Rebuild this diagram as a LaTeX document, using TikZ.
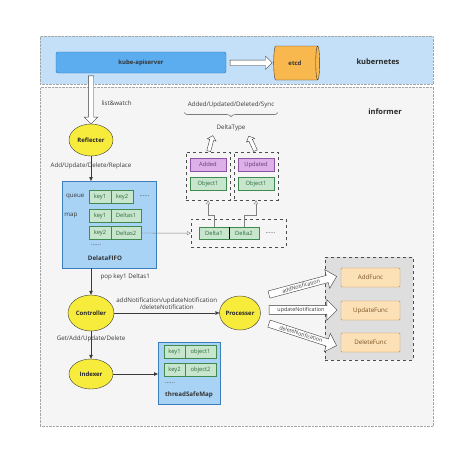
\documentclass[tikz,border=0pt]{standalone}
\usepackage{fontspec}
\setmainfont{Open Sans}
\usetikzlibrary{positioning,shapes.geometric,shapes.arrows,arrows.meta,decorations.pathreplacing,calc}

\definecolor{k8sblue}{HTML}{C4E0F9}
\definecolor{infogray}{HTML}{F5F5F5}
\definecolor{apiblue}{HTML}{5BADF0}
\definecolor{apiedge}{HTML}{2F6FAF}
\definecolor{etcdorange}{HTML}{F8B84E}
\definecolor{boxblue}{HTML}{A9D3F5}
\definecolor{boxedge}{HTML}{3C7DBB}
\definecolor{cellgreen}{HTML}{C7E6CD}
\definecolor{celledge}{HTML}{3F8B4F}
\definecolor{celltext}{HTML}{2E6B3A}
\definecolor{cellpurple}{HTML}{DDB0EA}
\definecolor{purpleedge}{HTML}{8E55A3}
\definecolor{nodeyellow}{HTML}{F7EB3C}
\definecolor{funcorange}{HTML}{FDE1B6}
\definecolor{funcedge}{HTML}{C98C3D}
\definecolor{funcgray}{HTML}{DEDEDE}
\definecolor{inkgray}{HTML}{3A3A3A}

\begin{document}
\begin{tikzpicture}[
  x=1pt, y=-1pt,
  font=\fontsize{6.2}{7.2}\selectfont, text=inkgray,
  region/.style={draw=gray!70, densely dotted, anchor=north west, inner sep=0pt},
  stage/.style={ellipse, draw=inkgray, fill=nodeyellow, text=black!85,
    font=\fontsize{6}{7}\selectfont\bfseries, minimum width=44pt, minimum height=32pt, inner sep=0pt},
  store/.style={draw=boxedge, fill=boxblue, anchor=north west, inner sep=0pt},
  cell/.style={draw=celledge, fill=cellgreen, text=celltext, minimum width=22pt,
    minimum height=13pt, inner sep=0pt, outer sep=0pt, font=\fontsize{5.8}{6.5}\selectfont},
  typecell/.style={cell, draw=purpleedge, fill=cellpurple, text=purpleedge!70!black},
  holder/.style={draw=gray!60!black, dashed, inner sep=0pt},
  func/.style={draw=funcedge, fill=funcorange, text=funcedge!60!black,
    minimum width=59pt, minimum height=19pt, rounded corners=1pt},
  fatarrow/.style={single arrow, draw=inkgray, fill=white, inner sep=2.5pt,
    single arrow head extend=4pt},
  notearrow/.style={fatarrow, inner sep=1.4pt, single arrow head extend=6pt,
    font=\fontsize{5.4}{5.6}\selectfont},
  title/.style={font=\fontsize{7.5}{8.5}\selectfont\bfseries, text=black!85},
  boxtitle/.style={font=\fontsize{6.2}{7}\selectfont\bfseries, text=black!80},
  flow/.style={draw=inkgray, -{Triangle[length=4pt,width=3.5pt]}},
  link/.style={draw=gray, -{Triangle[open,length=4pt,width=4pt]}}
]
\useasboundingbox (0,0) rectangle (474,453);
% regions
\node[region, fill=k8sblue, minimum width=393pt, minimum height=48pt] (k8s) at (40,36) {};
\node[region, fill=infogray, minimum width=393pt, minimum height=339pt] (inf) at (40,87) {};
\node[title] (k8st) at (378,62) {kubernetes};
\node[title] (inft) at (385,112) {informer};

% kubernetes
\node[draw=apiedge, fill=apiblue, rounded corners=2pt, minimum width=170pt, minimum height=21pt,
  font=\fontsize{6}{7}\selectfont\bfseries, text=black!80] (api) at (141,62.5) {kube-apiserver};
\node[cylinder, shape aspect=0.35, draw=inkgray, fill=etcdorange, minimum width=34pt,
  minimum height=46pt, font=\fontsize{6}{7}\selectfont\bfseries, text=black!80] (etcd) at (295,63) {etcd};
\node[fatarrow, minimum height=42pt] (toetcd) at ($(api.east)!0.5!(etcd.west)$) {};

% reflecter
\node[stage] (refl) at (91,140) {Reflecter};
\node[fatarrow, minimum height=48pt, rotate=-90] (watch) at ($(api.south -| refl)!0.5!(refl.north)$) {};
\node[anchor=west] (lw) at (98,103) {list\&watch};

% DelataFIFO
\node[store, minimum width=94pt, minimum height=87pt] (fifo) at (62,181) {};
\node[cell] (qk1) at (100,196.5) {key1};
\node[cell, right=0pt of qk1] (qk2) {key2};
\node[left=1pt of qk1] (ql) {queue};
\node[right=3pt of qk2] (qd) {......};
\node[cell] (mk1) at (100,215.5) {key1};
\node[cell, minimum width=30pt, right=0pt of mk1] (md1) {Deltas1};
\node[left=8pt of mk1] (ml) {map};
\node[cell] (mk2) at (100,233) {key2};
\node[cell, minimum width=30pt, right=0pt of mk2] (md2) {Deltas2};
\node (fd) at (96,245) {......};
\node[boxtitle] (fifot) at (105,258) {DelataFIFO};
\draw[flow] (refl) -- node[pos=0.4] {Add/Update/Delete/Replace} (refl |- fifo.north);

% deltas
\node[holder, minimum width=95pt, minimum height=28pt, anchor=north west] (dq) at (191,219) {};
\node[cell, minimum width=30pt, minimum height=12pt] (d1) at (214,233) {Delta1};
\node[cell, minimum width=30pt, minimum height=12pt, right=0pt of d1] (d2) {Delta2};
\draw[black] (d1.north east) -- (d1.south east);
\node[right=3pt of d2] (dd) {......};
\draw[link] (md2.east) -- (dq.west);

\node[holder, minimum width=44pt, minimum height=48pt] (tb1) at (208,176) {};
\node[typecell, minimum width=36pt] (t1) at (208,164.5) {Added};
\node[cell, minimum width=36pt] (o1) at (208,183.5) {Object1};
\node[holder, minimum width=44pt, minimum height=48pt] (tb2) at (256,176) {};
\node[typecell, minimum width=36pt] (t2) at (256,164.5) {Updated};
\node[cell, minimum width=36pt] (o2) at (256,183.5) {Object1};
\draw[link] (d1.north) -- ++(0,-12) -| (tb1.south);
\draw[link] (d2.north) -- ++(0,-12) -| (tb2.south);

\node (dtype) at (231,128) {DeltaType};
\node (dsync) at (231,105) {Added/Updated/Deleted/Sync};
\draw[inkgray, decorate, decoration={brace, mirror, amplitude=4pt}]
  ([yshift=-1pt]dsync.south west) -- ([yshift=-1pt]dsync.south east);
\node[fatarrow, inner sep=1.8pt, single arrow head extend=2.5pt, minimum height=16pt, rotate=75]
  (up1) at ($(tb1.north)+(2.5,-7.5)$) {};
\node[fatarrow, inner sep=1.8pt, single arrow head extend=2.5pt, minimum height=16pt, rotate=115]
  (up2) at ($(tb2.north)+(-3.5,-7.5)$) {};

% controller and processer
\node[stage, minimum width=46pt, minimum height=36pt] (ctrl) at (91,313) {Controller};
\draw[flow] (fifo.south -| ctrl) -- (ctrl);
\node[anchor=west] (pop) at (97,277) {pop key1 Deltas1};
\node[stage, minimum width=40pt, minimum height=34pt] (proc) at (240,313) {Processer};
\draw[flow] (ctrl) -- node[above, align=center] {addNotification/updateNotification\\/deleteNotification} (proc);

% handlers
\node[holder, fill=funcgray, minimum width=88pt, minimum height=103pt, anchor=north west] (fbox) at (325,257) {};
\node[func] (addf) at (370.5,277.5) {AddFunc};
\node[func] (updf) at (370.5,310.5) {UpdateFunc};
\node[func] (delf) at (370.5,342.5) {DeleteFunc};
\node[notearrow, minimum height=70pt, rotate=15] (addn) at (301,286) {addNotification};
\node[notearrow, minimum height=68pt] (updn) at (301,310) {updateNotification};
\node[notearrow, minimum height=71pt, rotate=-18] (deln) at (301,334) {deleteNotification};

% indexer
\node[stage, minimum width=44pt, minimum height=30pt] (idx) at (91,374) {Indexer};
\draw[flow] (ctrl) -- node[pos=0.28] {Get/Add/Update/Delete} (idx);
\node[store, minimum width=62pt, minimum height=62pt] (tsm) at (158,342) {};
\draw[flow] (idx) -- (tsm.west |- idx);
\node[cell, minimum width=21pt] (tk1) at (174.5,351.5) {key1};
\node[cell, minimum width=31pt, right=0pt of tk1] (to1) {object1};
\node[cell, minimum width=21pt] (tk2) at (174.5,370) {key2};
\node[cell, minimum width=31pt, right=0pt of tk2] (to2) {object2};
\node (td) at (170,383) {......};
\node[boxtitle] (tsmt) at (189,395) {threadSafeMap};
\end{tikzpicture}
\end{document}
